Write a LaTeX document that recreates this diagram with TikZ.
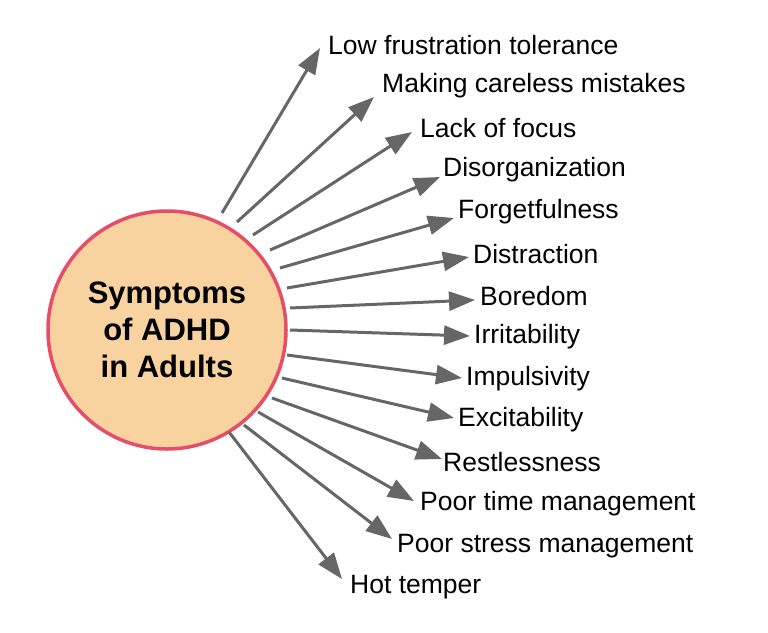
\documentclass[tikz,border=0pt]{standalone}
\usepackage{fontspec}
\setmainfont{Liberation Sans}
\usetikzlibrary{arrows.meta}
\definecolor{peach}{HTML}{F8D3A0}
\definecolor{rim}{HTML}{E54D68}
\definecolor{arr}{HTML}{666666}
\begin{document}
\begin{tikzpicture}[x=1pt,y=-1pt,
  lab/.style={anchor=west,font=\fontsize{26.5}{30}\selectfont,inner sep=0pt},
  ar/.style={draw=arr,line width=3pt,-{Triangle[length=26pt,width=19pt]},arr}]
\useasboundingbox (0,0) rectangle (768,632);
\node[circle,draw=rim,line width=3.5pt,fill=peach,minimum size=238pt,align=center,
  font=\bfseries\fontsize{31}{37}\selectfont] (c) at (167,330) {Symptoms\\of ADHD\\in Adults};
\foreach \n/\sx/\sy/\ex/\ey/\tx/\ty/\t in {
 a/222/213/320/48/328/45/Low frustration tolerance,
 b/237/222/374/97/382/86/Making careless mistakes,
 d/253/235/412/132/420/128/Lack of focus,
 e/270/250/440/177/443/170/Disorganization,
 f/280/268/454/218/458/212/Forgetfulness,
 g/287/288/469/257/473/254/Distraction,
 h/290/308/475/300/480/296/Boredom,
 i/290/330/470/336/474/337/Irritability,
 j/287/355/462/378/466/379/Impulsivity,
 k/282/378/454/418/458/420/Excitability,
 l/272/398/442/459/443/462/Restlessness,
 m/258/412/414/501/420/504/Poor time management,
 o/244/425/392/539/397/546/Poor stress management,
 p/229/432/342/579/350/587/Hot temper}{
  \coordinate (s\n) at (\sx,\sy);
  \coordinate (e\n) at (\ex,\ey);
  \node[lab] (t\n) at (\tx,\ty) {\t};
  \draw[ar] (s\n) -- (e\n);
}
\end{tikzpicture}
\end{document}
